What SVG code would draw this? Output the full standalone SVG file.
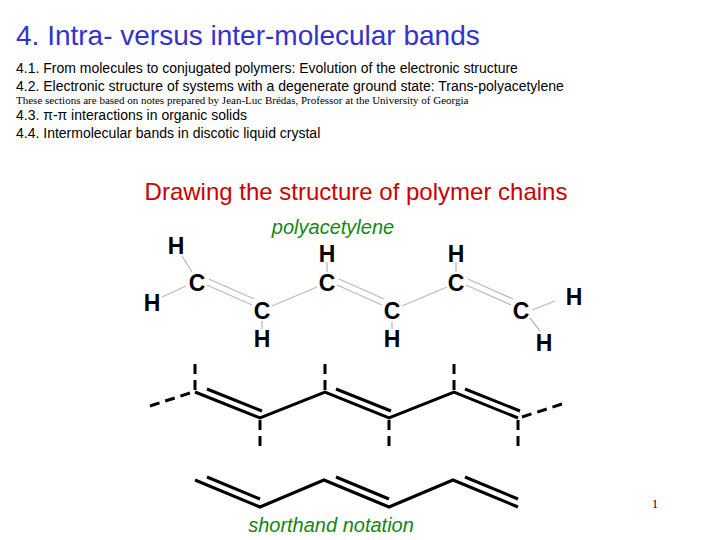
<svg xmlns="http://www.w3.org/2000/svg" width="720" height="540" viewBox="0 0 720 540">
<style>
.s{font-family:"Liberation Sans",Arial,sans-serif;font-size:14px;fill:#000}
.a{font-family:"Liberation Sans",Arial,sans-serif;font-size:23px;font-weight:bold;fill:#000;text-anchor:middle}
.g{stroke:#bbb;stroke-width:1.3;fill:none}
.k{stroke:#000;stroke-width:3;fill:none}
.d{stroke:#000;stroke-width:3;fill:none;stroke-dasharray:10,6}
</style>
<rect width="720" height="540" fill="#fff"/>
<text x="16" y="45" font-family="Liberation Sans,Arial,sans-serif" font-size="28" fill="#3333cc">4. Intra- versus inter-molecular bands</text>
<text class="s" x="16" y="73">4.1. From molecules to conjugated polymers: Evolution of the electronic structure</text>
<text class="s" x="16" y="91">4.2. Electronic structure of systems with a degenerate ground state: Trans-polyacetylene</text>
<text x="16" y="104" font-family="Liberation Serif,serif" font-size="11">These sections are based on notes prepared by Jean-Luc Brédas, Professor at the University of Georgia</text>
<text class="s" x="16" y="120">4.3. π-π interactions in organic solids</text>
<text class="s" x="16" y="138">4.4. Intermolecular bands in discotic liquid crystal</text>
<text x="356" y="200" text-anchor="middle" font-family="Liberation Sans,Arial,sans-serif" font-size="24" fill="#cc0000">Drawing the structure of polymer chains</text>
<text x="333" y="234" text-anchor="middle" font-family="Liberation Sans,Arial,sans-serif" font-size="20" font-style="italic" fill="#118811">polyacetylene</text>
<g id="molecule">
<g class="g">
<path d="M182,256 L192,272 M162,297 L186,286 M207,285 L252,305 M209,279 L254,299 M272,306 L317,287 M337,285 L382,305 M339,279 L384,299 M402,306 L447,287 M466,285 L511,305 M468,279 L513,299 M532,310 L555,301 M530,318 L540,331 M327,262 L327,272 M456,262 L456,272 M262,321 L262,329 M392,321 L392,329"/>
</g>
<text class="a" x="176" y="254">H</text><text class="a" x="152" y="311">H</text>
<text class="a" x="197" y="291">C</text><text class="a" x="262" y="319">C</text>
<text class="a" x="327" y="291">C</text><text class="a" x="392" y="319">C</text>
<text class="a" x="456" y="291">C</text><text class="a" x="521" y="319">C</text>
<text class="a" x="327" y="262">H</text><text class="a" x="456" y="262">H</text>
<text class="a" x="262" y="347">H</text><text class="a" x="392" y="347">H</text>
<text class="a" x="574" y="305">H</text><text class="a" x="544" y="351">H</text>
</g>
<g id="chain">
<path class="k" d="M195,392 L260,418 L325,392 L389,418 L454,392 L518,418"/>
<path class="k" d="M207,389 L262,411 M336,389 L391,411 M465,389 L520,411"/>
<path class="d" d="M195,364 L195,390 M325,364 L325,390 M454,364 L454,390 M260,420 L260,448 M389,420 L389,448 M518,420 L518,448 M150,406 L193,392 M522,417 L562,404"/>
</g>
<g id="shorthand">
<path class="k" d="M195,480 L260,507 L324,480 L389,507 L453,480 L518,507"/>
<path class="k" d="M207,477 L260,499 M336,477 L389,499 M465,477 L518,499"/>
</g>
<text x="331" y="532" text-anchor="middle" font-family="Liberation Sans,Arial,sans-serif" font-size="20" font-style="italic" fill="#118811">shorthand notation</text>
<text x="655" y="508" text-anchor="middle" font-family="Liberation Serif,serif" font-size="12">1</text>
</svg>
